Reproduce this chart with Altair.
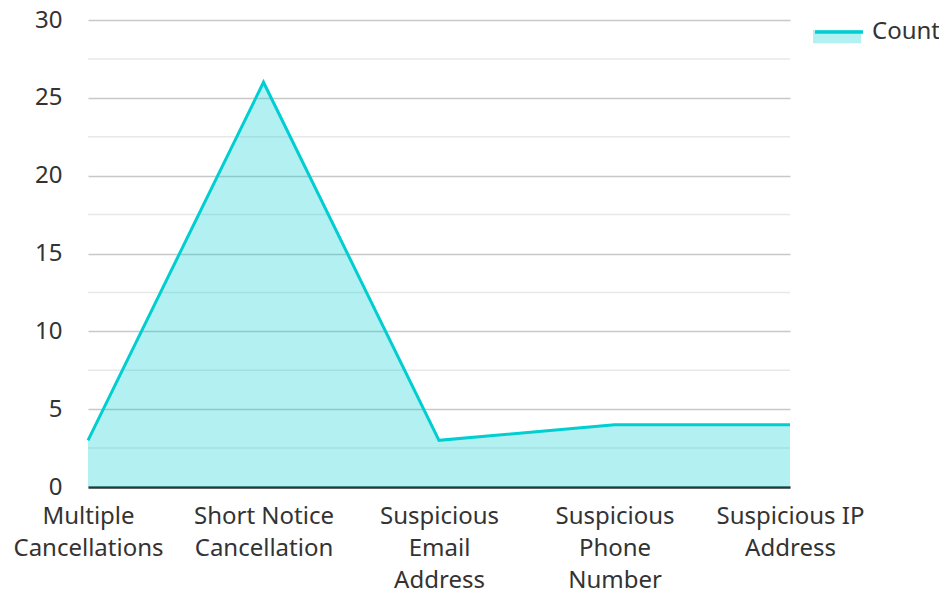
import altair as alt
import pandas as pd

categories = ["Multiple Cancellations", "Short Notice Cancellation", "Suspicious Email Address",
              "Suspicious Phone Number", "Suspicious IP Address"]
wrapped = [["Multiple", "Cancellations"], ["Short Notice", "Cancellation"],
           ["Suspicious", "Email", "Address"], ["Suspicious", "Phone", "Number"],
           ["Suspicious IP", "Address"]]
counts = [3, 26, 3, 4, 4]
series_name = "Count"
major_ticks = [0, 5, 10, 15, 20, 25, 30]
minor_ticks = [2.5, 7.5, 12.5, 17.5, 22.5, 27.5]

df = pd.DataFrame({"category": categories, "value": counts, "series": series_name})
minor_df = pd.DataFrame({"value": minor_ticks})

FONT = "Noto Sans"
COLOR = "#00CED1"

label_expr = ""
for c, w in zip(categories, wrapped):
    arr = "[" + ",".join("'" + s + "'" for s in w) + "]"
    label_expr += f"datum.value == '{c}' ? {arr} : "
label_expr += "datum.label"

x_enc = alt.X("category:N", sort=categories,
              scale=alt.Scale(type="point", padding=0),
              axis=alt.Axis(title=None, labelAngle=0, labelExpr=label_expr, labelFont=FONT,
                            labelFontSize=24, labelColor="#333333", labelLineHeight=32,
                            labelPadding=17, ticks=False, domain=True, domainColor="#333333",
                            domainWidth=2.5, grid=False, labelBaseline="top"))
y_scale = alt.Scale(domain=[0, 30], nice=False)
y_axis = alt.Axis(title=None, values=major_ticks, labelFont=FONT, labelFontSize=24,
                  labelColor="#333333", ticks=False, domain=False, labelPadding=26,
                  gridColor="#c8c8c8", gridWidth=1.5)
y_enc = alt.Y("value:Q", scale=y_scale, axis=y_axis)

minor = alt.Chart(minor_df).mark_rule(color="#e8e8e8", strokeWidth=1.5).encode(
    y=alt.Y("value:Q", scale=y_scale, axis=y_axis)
)

area_path = "M-1,0L1,0L1,0.55L-1,0.55Z"
line_path = "M-1,0L1,0"

area = alt.Chart(df).mark_area(opacity=0.3).encode(
    x=x_enc, y=y_enc,
    fill=alt.Fill("series:N", scale=alt.Scale(range=[COLOR]),
                  legend=alt.Legend(title=None, orient="none", legendX=725, legendY=-14,
                                    symbolType=area_path, symbolSize=2304, symbolOpacity=0.3,
                                    symbolStrokeWidth=0, labelColor="transparent",
                                    labelFont=FONT, labelFontSize=24, labelOffset=7,
                                    labelLimit=300, padding=0)),
)
line = alt.Chart(df).mark_line(strokeWidth=3).encode(
    x=x_enc, y=y_enc,
    stroke=alt.Stroke("series:N", scale=alt.Scale(range=[COLOR]),
                      legend=alt.Legend(title=None, orient="none", legendX=725, legendY=-14,
                                        symbolType=line_path, symbolSize=2304,
                                        symbolStrokeWidth=3.5, labelFont=FONT,
                                        labelFontSize=24, labelColor="#333333",
                                        labelOffset=7, labelLimit=300, padding=0)),
)

chart = alt.layer(minor, area, line).properties(
    width=702, height=467,
    background="white",
    autosize=alt.AutoSizeParams(type="none"),
    padding={"left": 80, "top": 12, "right": 149, "bottom": 102},
).configure_view(strokeWidth=0, stroke="transparent")

chart.save("out.html", embed_options={"renderer": "svg", "actions": False})
